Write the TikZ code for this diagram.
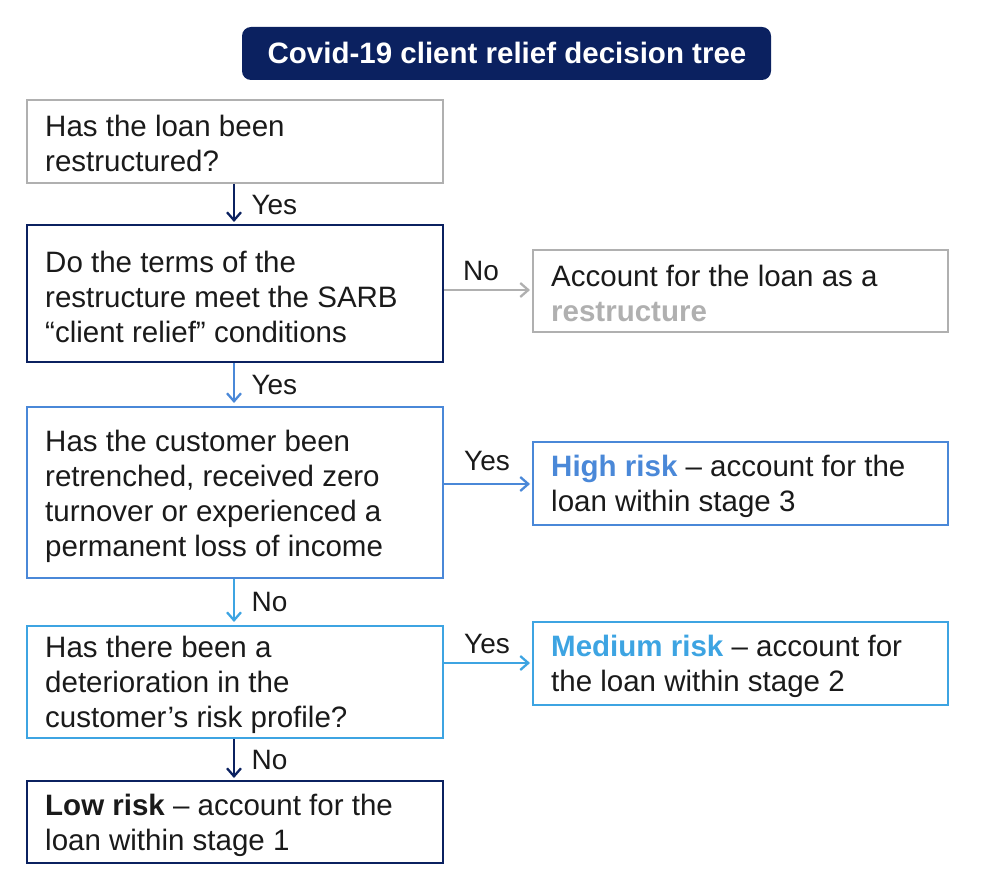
\documentclass[tikz,border=0pt]{standalone}
\usepackage{fontspec}
\setmainfont{Liberation Sans}
\usetikzlibrary{arrows.meta}
\definecolor{navy}{HTML}{0B2160}
\definecolor{gry}{HTML}{B0B0B0}
\definecolor{midb}{HTML}{4A88D8}
\definecolor{ltb}{HTML}{3DA4E2}
\definecolor{txt}{HTML}{1A1A1A}
\begin{document}
\begin{tikzpicture}[x=1pt,y=-1pt,
  lbl/.style={font=\fontsize{28}{32}\selectfont,text=txt},
  arr/.style={draw=#1,line width=2.3pt,-{Straight Barb[length=8pt,width=14pt]}},
  btext/.style={font=\fontsize{29.5}{35}\selectfont,text=txt,align=left,anchor=west,inner sep=0}]
\useasboundingbox (0,0) rectangle (992,890);
\fill[navy,rounded corners=9pt] (242,27) rectangle (771,80);
\node[text=white,font=\bfseries\fontsize{29.5}{32}\selectfont] (title) at (507,53) {Covid-19 client relief decision tree};
% boxes
\draw[gry,line width=1.3pt] (27,100) rectangle (443,183);
\node[btext] (t1) at (45,143.5) {Has the loan been\\restructured?};
\draw[navy,line width=1.3pt] (27,225) rectangle (443,362);
\node[btext] (t2) at (45,297) {Do the terms of the\\restructure meet the SARB\\“client relief” conditions};
\draw[gry,line width=1.3pt] (533,250) rectangle (948,332);
\node[btext] (t3) at (551,293) {Account for the loan as a\\\textcolor{gry}{\bfseries restructure}};
\draw[midb,line width=1.3pt] (27,407) rectangle (443,578);
\node[btext] (t4) at (45,496) {Has the customer been\\retrenched, received zero\\turnover or experienced a\\permanent loss of income};
\draw[midb,line width=1.3pt] (533,442) rectangle (948,525);
\node[btext] (t5) at (551,486) {\textcolor{midb}{\bfseries High risk} – account for the\\loan within stage 3};
\draw[ltb,line width=1.3pt] (27,626) rectangle (443,738);
\node[btext] (t6) at (45,685) {Has there been a\\deterioration in the\\customer’s risk profile?};
\draw[ltb,line width=1.3pt] (533,622) rectangle (948,705);
\node[btext] (t7) at (551,666) {\textcolor{ltb}{\bfseries Medium risk} – account for\\the loan within stage 2};
\draw[navy,line width=1.3pt] (27,781) rectangle (443,863);
\node[btext] (t8) at (45,825) {\textbf{Low risk} – account for the\\loan within stage 1};
% coordinates
\coordinate (a1s) at (234,184); \coordinate (a1e) at (234,222);
\coordinate (a2s) at (234,363); \coordinate (a2e) at (234,403);
\coordinate (a3s) at (234,579); \coordinate (a3e) at (234,622);
\coordinate (a4s) at (234,739); \coordinate (a4e) at (234,778);
\coordinate (n1s) at (444,290); \coordinate (n1e) at (530,290);
\coordinate (n2s) at (444,484); \coordinate (n2e) at (530,484);
\coordinate (n3s) at (444,663); \coordinate (n3e) at (530,663);
\draw[arr=navy] (a1s)--(a1e); \node[lbl,anchor=west] (l1) at (248,205) {Yes};
\draw[arr=midb] (a2s)--(a2e); \node[lbl,anchor=west] (l2) at (248,385) {Yes};
\draw[arr=ltb] (a3s)--(a3e); \node[lbl,anchor=west] (l3) at (248,602) {No};
\draw[arr=navy] (a4s)--(a4e); \node[lbl,anchor=west] (l4) at (248,760) {No};
\draw[arr=gry] (n1s)--(n1e); \node[lbl] (l5) at (481,271) {No};
\draw[arr=midb] (n2s)--(n2e); \node[lbl] (l6) at (487,461) {Yes};
\draw[arr=ltb] (n3s)--(n3e); \node[lbl] (l7) at (487,644) {Yes};
\end{tikzpicture}
\end{document}
